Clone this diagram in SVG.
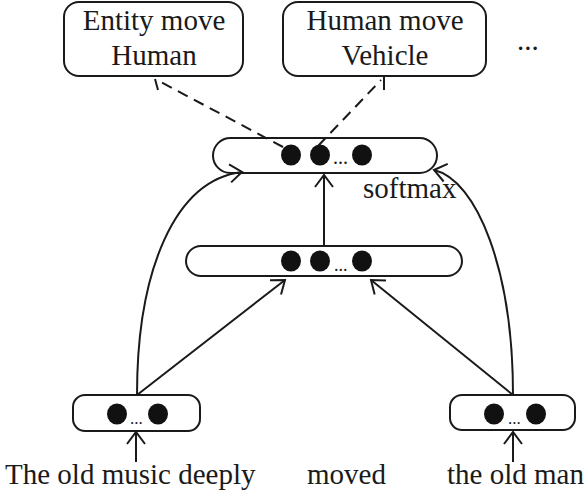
<svg xmlns="http://www.w3.org/2000/svg" width="585" height="491" viewBox="0 0 585 491">
<defs>
<marker id="arr" markerUnits="userSpaceOnUse" markerWidth="26" markerHeight="26" viewBox="-13 -13 26 26" refX="0" refY="0" orient="auto">
<path d="M-12,-9 L0,0 L-12,9" fill="none" stroke="#1a1a1a" stroke-width="2"/>
</marker>
</defs>
<style>
.box{fill:#fff;stroke:#1a1a1a;stroke-width:2}
.t{font-family:"Liberation Serif","Times New Roman",serif;font-size:29px;fill:#1a1a1a}
.el{font-family:"Liberation Serif","Times New Roman",serif;fill:#1a1a1a}
.dot{fill:#111}
.ln{fill:none;stroke:#1a1a1a;stroke-width:2}
.dash{fill:none;stroke:#1a1a1a;stroke-width:2;stroke-dasharray:11 7}
</style>
<g id="label1">
<rect class="box" x="64" y="2" width="179" height="74" rx="15"/>
<text class="t" x="154" y="30" text-anchor="middle">Entity move</text>
<text class="t" x="154" y="65" text-anchor="middle">Human</text>
</g>
<g id="label2">
<rect class="box" x="283" y="2" width="203" height="74" rx="15"/>
<text class="t" x="385" y="30" text-anchor="middle">Human move</text>
<text class="t" x="385" y="65" text-anchor="middle">Vehicle</text>
</g>
<g id="more">
<text class="t" x="517" y="50">...</text>
</g>
<g id="softmax-layer">
<rect class="box" x="213" y="138" width="224" height="35" rx="17.5"/>
<ellipse class="dot" cx="291" cy="155" rx="10" ry="10.5"/>
<ellipse class="dot" cx="320" cy="155" rx="10" ry="10.5"/>
<ellipse class="dot" cx="362" cy="155" rx="10" ry="10.5"/>
<text class="el" x="333" y="164" font-size="20">...</text>
<text class="t" x="363" y="198">softmax</text>
</g>
<g id="hidden-layer">
<rect class="box" x="186" y="246" width="276" height="30" rx="15"/>
<ellipse class="dot" cx="291" cy="261" rx="10" ry="10.5"/>
<ellipse class="dot" cx="320" cy="261" rx="10" ry="10.5"/>
<ellipse class="dot" cx="362" cy="261" rx="10" ry="10.5"/>
<text class="el" x="334" y="271" font-size="18">...</text>
</g>
<g id="left-enc">
<rect class="box" x="73" y="395" width="127" height="36" rx="12"/>
<ellipse class="dot" cx="117" cy="414" rx="10" ry="10.5"/>
<ellipse class="dot" cx="158" cy="414" rx="10" ry="10.5"/>
<text class="el" x="130" y="424" font-size="17">...</text>
</g>
<g id="right-enc">
<rect class="box" x="450" y="395" width="125" height="35" rx="12"/>
<ellipse class="dot" cx="494" cy="414" rx="10" ry="10.5"/>
<ellipse class="dot" cx="536" cy="414" rx="10" ry="10.5"/>
<text class="el" x="508" y="424" font-size="17">...</text>
</g>
<g id="words">
<text class="t" x="5" y="484">The old music deeply</text>
<text class="t" x="307" y="484">moved</text>
<text class="t" x="447" y="484">the old man</text>
</g>
<g id="connectors">
<path class="dash" d="M283,147 L157,80"/>
<path class="dash" d="M318,146 L381,80"/>
<path class="ln" d="M155,79 L158,90"/>
<path class="ln" d="M384,77 L384,90"/>
<path class="ln" d="M324,246 L324,175" marker-end="url(#arr)"/>
<path class="ln" d="M137,395 L285,280" marker-end="url(#arr)"/>
<path class="ln" d="M513,395 L371,280" marker-end="url(#arr)"/>
<path class="ln" d="M137,395 C137,270 175,180 242,172" marker-end="url(#arr)"/>
<path class="ln" d="M513,395 C513,270 477,180 434,170" marker-end="url(#arr)"/>
<path class="ln" d="M136,462 L136,432" marker-end="url(#arr)"/>
<path class="ln" d="M513,462 L513,432" marker-end="url(#arr)"/>
</g>
</svg>
